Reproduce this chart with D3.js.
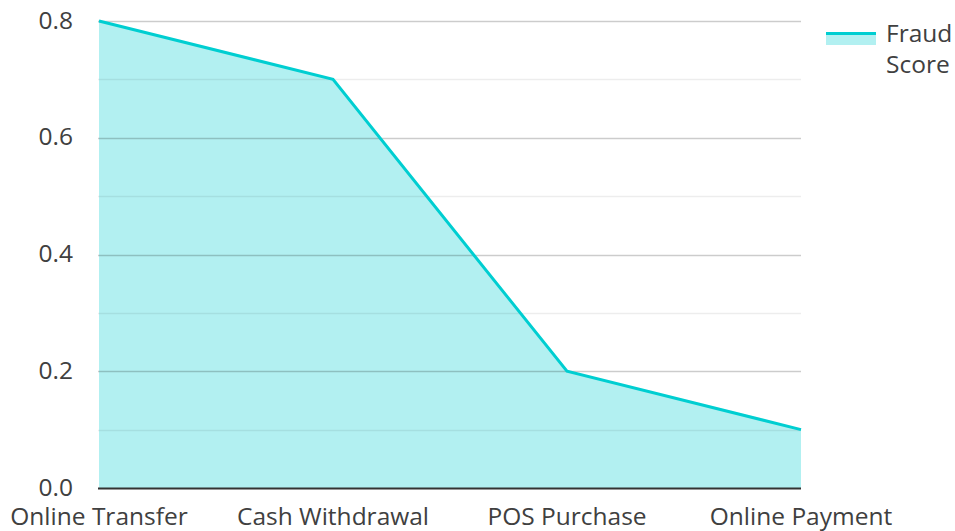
<!DOCTYPE html>
<html>
<head>
<meta charset="utf-8">
<script src="https://cdn.jsdelivr.net/npm/d3@7"></script>
<style>
  body { margin: 0; background: #fff; }
  text { font-family: "Open Sans", sans-serif; fill: #404040; }
</style>
</head>
<body>
<script>
// data
const categories = ["Online Transfer", "Cash Withdrawal", "POS Purchase", "Online Payment"];
const fraudScore = [0.8, 0.7, 0.2, 0.1];
const yTicks = [0, 0.2, 0.4, 0.6, 0.8];
const yMinorTicks = [0.1, 0.3, 0.5, 0.7];
const seriesName = ["Fraud", "Score"];

const width = 955, height = 531;
const margin = { top: 21, right: 154, bottom: 43, left: 99 };
const color = "#00CED1";
const fontSize = "24.5px";

const svg = d3.select("body").append("svg")
    .attr("width", width)
    .attr("height", height);

const x = d3.scalePoint()
    .domain(categories)
    .range([margin.left, width - margin.right]);

const y = d3.scaleLinear()
    .domain([0, 0.8])
    .range([height - margin.bottom, margin.top]);

const data = categories.map((c, i) => ({ cat: c, v: fraudScore[i] }));

// area fill
svg.append("path")
    .datum(data)
    .attr("fill", color)
    .attr("fill-opacity", 0.3)
    .attr("d", d3.area()
        .x(d => x(d.cat))
        .y0(y(0))
        .y1(d => y(d.v)));

// gridlines (drawn over fill)
svg.append("g")
    .selectAll("line")
    .data(yMinorTicks)
    .join("line")
    .attr("x1", margin.left - 1)
    .attr("x2", width - margin.right)
    .attr("y1", d => Math.round(y(d)) + 0.5)
    .attr("y2", d => Math.round(y(d)) + 0.5)
    .attr("stroke", "#000")
    .attr("stroke-opacity", 0.07)
    .attr("stroke-width", 1.5);

svg.append("g")
    .selectAll("line")
    .data(yTicks.filter(d => d > 0))
    .join("line")
    .attr("x1", margin.left - 1)
    .attr("x2", width - margin.right)
    .attr("y1", d => Math.round(y(d)) + 0.5)
    .attr("y2", d => Math.round(y(d)) + 0.5)
    .attr("stroke", "#000")
    .attr("stroke-opacity", 0.2)
    .attr("stroke-width", 1.5);

// line
svg.append("path")
    .datum(data)
    .attr("fill", "none")
    .attr("stroke", color)
    .attr("stroke-width", 3)
    .attr("d", d3.line()
        .x(d => x(d.cat))
        .y(d => y(d.v)));

// x axis line
svg.append("line")
    .attr("x1", margin.left - 1)
    .attr("x2", width - margin.right)
    .attr("y1", y(0) + 0.5)
    .attr("y2", y(0) + 0.5)
    .attr("stroke", "#333")
    .attr("stroke-width", 2);

// y labels
svg.append("g")
    .selectAll("text")
    .data(yTicks)
    .join("text")
    .attr("x", 73)
    .attr("y", d => y(d) + 1)
    .attr("text-anchor", "end")
    .attr("dominant-baseline", "middle")
    .style("font-size", fontSize)
    .text(d => d.toFixed(1));

// x labels
svg.append("g")
    .selectAll("text")
    .data(categories)
    .join("text")
    .attr("x", d => x(d))
    .attr("y", height - 13)
    .attr("text-anchor", "middle")
    .attr("dominant-baseline", "middle")
    .style("font-size", fontSize)
    .text(d => d);

// legend
const lg = svg.append("g").attr("transform", "translate(826,0)");
lg.append("rect")
    .attr("x", 0).attr("y", 33)
    .attr("width", 50).attr("height", 12)
    .attr("fill", color).attr("fill-opacity", 0.3);
lg.append("line")
    .attr("x1", 0).attr("x2", 50)
    .attr("y1", 33.5).attr("y2", 33.5)
    .attr("stroke", color).attr("stroke-width", 3);
lg.append("text")
    .attr("x", 60).attr("y", 35)
    .attr("dominant-baseline", "middle")
    .style("font-size", fontSize)
    .selectAll("tspan")
    .data(seriesName)
    .join("tspan")
    .attr("x", 60)
    .attr("dy", (d, i) => i === 0 ? 0 : 31)
    .text(d => d);
</script>
</body>
</html>
